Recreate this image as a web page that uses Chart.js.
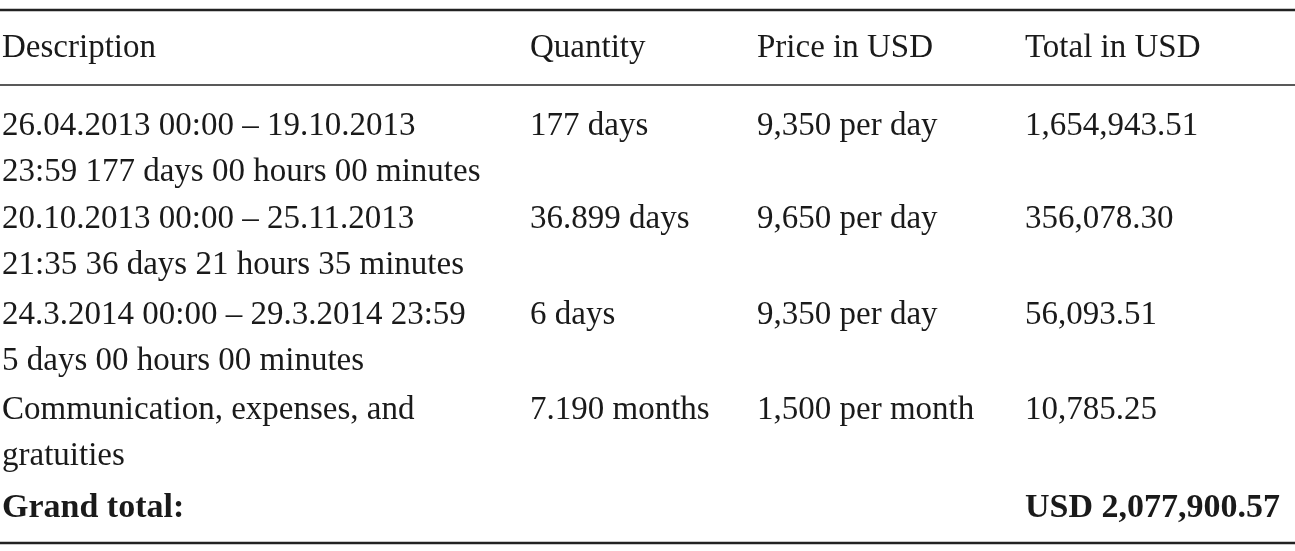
<!DOCTYPE html>
<html><head><meta charset="utf-8">
<script src="https://cdn.jsdelivr.net/npm/chart.js@4"></script>
<style>html,body{margin:0;padding:0;background:#fff;}canvas{display:block;}</style>
</head><body>
<canvas id="c" width="1295" height="551"></canvas>
<script>
const headers = ["Description", "Quantity", "Price in USD", "Total in USD"];
const descriptions = [
  ["26.04.2013 00:00 \u2013 19.10.2013", "23:59 177 days 00 hours 00 minutes"],
  ["20.10.2013 00:00 \u2013 25.11.2013", "21:35 36 days 21 hours 35 minutes"],
  ["24.3.2014 00:00 \u2013 29.3.2014 23:59", "5 days 00 hours 00 minutes"],
  ["Communication, expenses, and", "gratuities"]
];
const quantities = ["177 days", "36.899 days", "6 days", "7.190 months"];
const prices = ["9,350 per day", "9,650 per day", "9,350 per day", "1,500 per month"];
const totals = [1654943.51, 356078.30, 56093.51, 10785.25];
const grandLabel = "Grand total:";
const grandTotal = "USD 2,077,900.57";

const fmt = v => v.toLocaleString("en-US", {minimumFractionDigits: 2, maximumFractionDigits: 2});

const tablePlugin = {
  id: "table",
  afterDraw(chart) {
    const ctx = chart.ctx;
    const colX = [2, 530, 757, 1025];
    const font = '33px "Liberation Serif", serif';
    const bold = 'bold 34px "Liberation Serif", serif';
    ctx.save();
    ctx.fillStyle = "#fff";
    ctx.fillRect(0, 0, chart.width, chart.height);
    ctx.strokeStyle = "#222";
    ctx.lineWidth = 2.5;
    ctx.beginPath(); ctx.moveTo(0, 10); ctx.lineTo(1295, 10); ctx.stroke();
    ctx.beginPath(); ctx.moveTo(0, 543); ctx.lineTo(1295, 543); ctx.stroke();
    ctx.lineWidth = 1.5;
    ctx.beginPath(); ctx.moveTo(0, 85); ctx.lineTo(1295, 85); ctx.stroke();
    ctx.fillStyle = "#1a1a1a";
    ctx.textBaseline = "middle";
    ctx.font = font;
    headers.forEach((h, i) => ctx.fillText(h, colX[i], 48));
    const rowY = [126, 219, 315, 410];
    const lh = 46;
    descriptions.forEach((d, r) => {
      d.forEach((line, k) => ctx.fillText(line, colX[0], rowY[r] + k * lh));
      ctx.fillText(quantities[r], colX[1], rowY[r]);
      ctx.fillText(prices[r], colX[2], rowY[r]);
      ctx.fillText(fmt(totals[r]), colX[3], rowY[r]);
    });
    ctx.font = bold;
    ctx.fillText(grandLabel, colX[0], 508);
    ctx.fillText(grandTotal, colX[3], 508);
    ctx.restore();
  }
};

new Chart(document.getElementById("c"), {
  type: "bar",
  data: { labels: headers, datasets: [{ data: totals, backgroundColor: "rgba(0,0,0,0)" }] },
  options: {
    responsive: false, animation: false, devicePixelRatio: 1,
    plugins: { legend: { display: false }, tooltip: { enabled: false } },
    scales: { x: { display: false }, y: { display: false } }
  },
  plugins: [tablePlugin]
});
</script>
</body></html>
